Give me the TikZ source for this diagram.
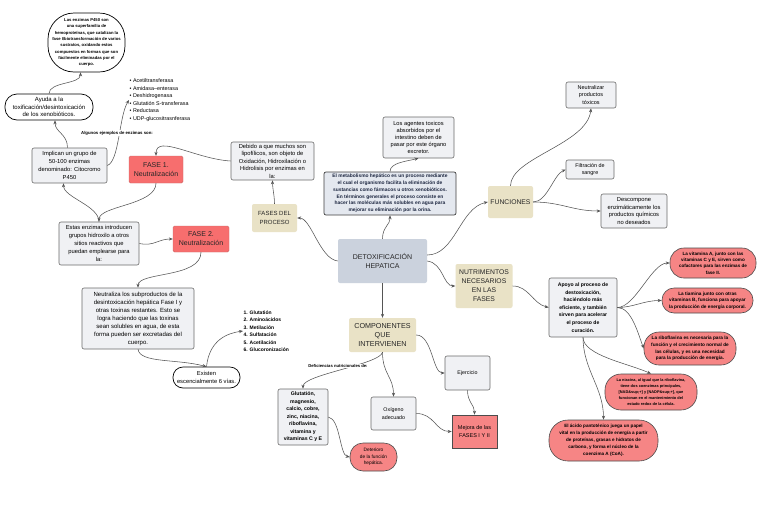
\documentclass[tikz,border=0pt]{standalone}
\usepackage{fontspec}
\setmainfont{Liberation Sans}
\usetikzlibrary{arrows.meta}
\definecolor{linegray}{HTML}{555555}
\definecolor{boxfill}{HTML}{F0F1F4}
\definecolor{boxborder}{HTML}{6A6A6A}
\definecolor{beige}{HTML}{E9E2C6}
\definecolor{redbox}{HTML}{F76E6E}
\definecolor{redpill}{HTML}{F68585}
\definecolor{detoxfill}{HTML}{CBD2DD}
\definecolor{metabfill}{HTML}{E4E8EF}
\definecolor{navytext}{HTML}{1C2640}
\newcommand\myfs[2]{\fontsize{#1}{#2}\selectfont}
\begin{document}
\begin{tikzpicture}[x=1pt,y=-1pt,
  base/.style={align=center, inner sep=1pt, text=black},
  gbox/.style={base, draw=boxborder, fill=boxfill, rounded corners=2pt, line width=0.6pt},
  mbox/.style={base, draw=black!75, fill=metabfill, rounded corners=2pt, line width=0.7pt, text=navytext},
  beigebox/.style={base, fill=beige, rounded corners=2pt, text=black!85},
  redbx/.style={base, fill=redbox, draw=redbox!80!black!90, rounded corners=1.5pt, line width=0.4pt, text=black!85},
  redsq/.style={base, fill=redpill, draw=black!70, line width=0.6pt},
  redpl/.style={base, fill=redpill, draw=black!70, line width=0.6pt},
  whpill/.style={base, fill=white, draw=black, line width=0.7pt},
  plain/.style={base, inner sep=0.5pt},
  conn/.style={draw=linegray, line width=0.55pt, -{Stealth[length=4pt,width=3.2pt]}}
]
\useasboundingbox[fill=white] (0,0) rectangle (768,509);

% ---------- nodes ----------
\node[whpill, rounded corners=26pt, minimum width=77pt, minimum height=59pt, font={\myfs{4.2}{6.3}\bfseries}] (oval) at (86.5,42.5)
  {Las enzimas P450 son\\ una superfamilia de\\ hemoproteínas, que catalizan la\\ fase I/biotransformación de varios\\ sustratos, oxidando estos\\ compuestos en formas que son\\ fácilmente eliminadas por el\\ cuerpo.};
\node[whpill, rounded corners=12pt, minimum width=88pt, minimum height=26pt, font={\myfs{6}{7.5}}] (ayuda) at (49,107)
  {Ayuda a la\\ toxificación/desintoxicación\\ de los xenobióticos.};
\node[plain, anchor=west, align=left, font={\myfs{5.4}{7.5}}] (enz) at (129,100)
  {• Acetiltransferasa\\ • Amidasa–enterasa\\ • Deshidrogenasa\\ • Glutatión S-transferasa\\ • Reductasa\\ • UDP-glucositrasnferasa};
\node[gbox, minimum width=75pt, minimum height=35pt, font={\myfs{5.8}{7.8}}] (impl) at (69.5,165.5)
  {Implican un grupo de\\ 50-100 enzimas\\ denominado: Citocromo\\ P450};
\node[redbx, minimum width=54pt, minimum height=27pt, font={\myfs{7}{9}}] (f1) at (156,169.5)
  {FASE 1.\\ Neutralización};
\node[gbox, minimum width=80pt, minimum height=43pt, font={\myfs{5.8}{8}}] (estas) at (99,243.5)
  {Estas enzimas introducen\\ grupos hidroxilo a otros\\ sitios reactivos que\\ puedan emplearse para\\ la:};
\node[redbx, minimum width=56pt, minimum height=26pt, font={\myfs{7}{9}}] (f2) at (201,239)
  {FASE 2.\\ Neutralización};
\node[gbox, minimum width=112pt, minimum height=61pt, font={\myfs{6}{8}}] (neut) at (138,318.5)
  {Neutraliza los subproductos de la\\ desintoxicación hepática Fase I y\\ otras toxinas restantes. Esto se\\ logra haciendo que las toxinas\\ sean solubles en agua, de esta\\ forma pueden ser excretadas del\\ cuerpo.};
\node[whpill, rounded corners=10pt, minimum width=67pt, minimum height=21pt, font={\myfs{5.8}{7.5}}] (exist) at (206.5,377.5)
  {Existen\\ escencialmente 6 vías.};
\node[plain, anchor=west, align=left, font={\myfs{5}{7.5}\bfseries}] (vias) at (243,331)
  {1. Glutatión\\ 2. Aminoácidos\\ 3. Metilación\\ 4. Sulfatación\\ 5. Acetilación\\ 6. Glucoronización};
\node[gbox, minimum width=83pt, minimum height=38pt, font={\myfs{5.8}{7.5}}] (debido) at (272.5,161)
  {Debido a que muchos son\\ lipofílicos, son objeto de\\ Oxidación, Hidroxilación o\\ Hidrolisis por enzimas en\\ la:};
\node[beigebox, minimum width=45pt, minimum height=28pt, font={\myfs{6}{8.5}}] (fases) at (274.5,218)
  {FASES DEL\\ PROCESO};
\node[mbox, minimum width=132pt, minimum height=43pt, font={\myfs{4.9}{6.8}\bfseries}] (metab) at (390,193.5)
  {El metabolismo hepático es un proceso mediante\\ el cual el organismo facilita la eliminación de\\ sustancias como fármacos u otros xenobióticos.\\ En términos generales el proceso consiste en\\ hacer las moléculas más solubles en agua para\\ mejorar su eliminación por la orina.};
\node[gbox, minimum width=71pt, minimum height=41pt, font={\myfs{5.7}{7.2}}] (agent) at (418.5,137.5)
  {Los agentes toxicos\\ absorbidos por el\\ intestino deben de\\ pasar por este órgano\\ excretor.};
\node[base, fill=detoxfill, rounded corners=2pt, minimum width=89pt, minimum height=44pt, font={\myfs{7}{9.5}}, text=black!85] (detox) at (382.5,261)
  {DETOXIFICACIÓN\\ HEPATICA};
\node[beigebox, minimum width=45pt, minimum height=32pt, font={\myfs{6.8}{8}}] (func) at (510.5,202)
  {FUNCIONES};
\node[gbox, minimum width=50pt, minimum height=26pt, font={\myfs{5.5}{7.5}}] (neutz) at (591,95)
  {Neutralizar\\ productos\\ tóxicos};
\node[gbox, minimum width=48pt, minimum height=19pt, font={\myfs{5.4}{7}}] (filt) at (590,169.5)
  {Filtración de\\ sangre};
\node[gbox, minimum width=66pt, minimum height=34pt, font={\myfs{5.8}{7.5}}] (desc) at (634,211)
  {Descompone\\ enzimáticamente los\\ productos químicos\\ no deseados};
\node[beigebox, minimum width=57pt, minimum height=44pt, font={\myfs{6.8}{9}}] (nutri) at (484,286)
  {NUTRIMENTOS\\ NECESARIOS\\ EN LAS\\ FASES};
\node[gbox, minimum width=68pt, minimum height=59pt, font={\myfs{5.1}{7.6}\bfseries}] (apoyo) at (583,307.5)
  {Apoyo al proceso de\\ destoxicación,\\ haciéndolo más\\ eficiente, y también\\ sirven para acelerar\\ el proceso de\\ curación.};
\node[redpl, rounded corners=14pt, minimum width=86pt, minimum height=30pt, font={\myfs{4.6}{6.3}\bfseries}] (vita) at (713,263)
  {La vitamina A, junto con las\\ vitaminas C y E, sirven como\\ cofactores para las enzimas de\\ fase II.};
\node[redpl, rounded corners=12pt, minimum width=91pt, minimum height=25pt, font={\myfs{4.7}{6.5}\bfseries}] (tiam) at (707.5,300.5)
  {La tiamina junto con otras\\ vitaminas B, funciona para apoyar\\ la producción de energía corporal.};
\node[redpl, rounded corners=15pt, minimum width=92pt, minimum height=33pt, font={\myfs{4.7}{6.6}\bfseries}] (ribo) at (690,348.5)
  {La riboflavina es necesaria para la\\ función y el crecimiento normal de\\ las células, y es una necesidad\\ para la producción de energía.};
\node[redpl, rounded corners=16pt, minimum width=92pt, minimum height=36pt, font={\myfs{3.9}{6.2}\bfseries}] (niac) at (651,392)
  {La niacina, al igual que la riboflavina,\\ tiene dos coenzimas principales,\\ {[}NAD\&sup;+] y [NADP\&sup;+], que\\ funcionan en el mantenimiento del\\ estado redox de la célula.};
\node[redpl, rounded corners=19pt, minimum width=109pt, minimum height=41pt, font={\myfs{4.6}{7}\bfseries}] (pant) at (603.5,440.5)
  {El ácido pantoténico juega un papel\\ vital en la producción de energía a partir\\ de proteínas, grasas e hidratos de\\ carbono, y forma el núcleo de la\\ coenzima A (CoA).};
\node[beigebox, minimum width=67pt, minimum height=34pt, font={\myfs{7.2}{9}}] (comp) at (382.5,335)
  {COMPONENTES\\ QUE\\ INTERVIENEN};
\node[gbox, minimum width=45pt, minimum height=34pt, font={\myfs{5.3}{7}}] (ejer) at (467.5,373)
  {Ejercicio};
\node[gbox, minimum width=45pt, minimum height=33pt, font={\myfs{5.3}{7.5}}] (oxig) at (393.5,413.5)
  {Oxígeno\\ adecuado};
\node[redsq, minimum width=45pt, minimum height=33pt, font={\myfs{5.5}{7.5}}] (mejora) at (474.5,431.5)
  {Mejora de las\\ FASES I Y II};
\node[gbox, minimum width=50pt, minimum height=56pt, font={\myfs{5.2}{7.5}\bfseries}] (gluta) at (303,417)
  {Glutatión,\\ magnesio,\\ calcio, cobre,\\ zinc, niacina,\\ riboflavina,\\ vitamina y\\ vitaminas C y E};
\node[redpl, rounded corners=13pt, minimum width=47pt, minimum height=28pt, font={\myfs{4.8}{6.3}}] (deter) at (373.5,457)
  {Deterioro\\ de la función\\ hepática.};

% ---------- connectors ----------
\draw[conn] (detox.west) .. controls +(-18,-2) and +(14,0) .. (fases.east);
\draw[conn] (fases.north) .. controls +(0,-8) and +(0,8) .. (debido.south);
\draw[conn] (debido.west) .. controls +(-35,-2) and +(0,-22) .. (f1.north);
\draw[conn] (f1.south) .. controls +(0,22) and +(0,-16) .. (estas.north);
\draw[conn] (estas.north) .. controls +(0,-16) and +(0,14) .. ([xshift=-6pt]impl.south);
\draw[conn] ([xshift=-2pt]impl.north) .. controls +(0,-14) and +(0,12) .. ([xshift=6pt]ayuda.south);
\draw[conn] (ayuda.north) .. controls +(0,-12) and +(0,12) .. ([xshift=-6pt]oval.south);
\draw[conn] (impl.east) .. controls +(12,-4) and +(-10,16) .. (enz.west);
\draw[conn] (estas.east) .. controls +(15,3) and +(-15,0) .. (f2.west);
\draw[conn] (f2.south) .. controls +(0,26) and +(0,-16) .. (neut.north);
\draw[conn] (neut.south) .. controls +(2,14) and +(-30,-8) .. (exist.north);
\draw[conn] (exist.north) .. controls +(3,-28) and +(-14,2) .. (vias.west);
\draw[conn] (detox.north) .. controls +(0,-12) and +(0,10) .. (metab.south);
\draw[conn] (metab.north) .. controls +(0,-9) and +(-12,3) .. (agent.south);
\draw[conn] ([yshift=6pt]detox.east) .. controls +(28,0) and +(-28,6) .. (func.west);
\draw[conn] (func.north) .. controls +(0,-28) and +(-4,36) .. (neutz.south);
\draw[conn] (func.east) .. controls +(14,0) and +(-12,5) .. (filt.west);
\draw[conn] (func.east) .. controls +(28,0) and +(-28,0) .. (desc.west);
\draw[conn] (detox.east) .. controls +(16,2) and +(-12,0) .. (nutri.west);
\draw[conn] (nutri.east) .. controls +(16,0) and +(-16,-4) .. (apoyo.west);
\draw[conn] (apoyo.east) .. controls +(18,0) and +(-18,0) .. (vita.west);
\draw[conn] (apoyo.east) .. controls +(16,0) and +(-18,0) .. (tiam.west);
\draw[conn] (apoyo.east) .. controls +(14,0) and +(-6,-16) .. (ribo.west);
\draw[conn] (apoyo.south) .. controls +(0,18) and +(-22,-10) .. (niac.north);
\draw[conn] (apoyo.south) .. controls +(0,32) and +(0,-32) .. (pant.north);
\draw[conn] (detox.south) -- (comp.north);
\draw[conn] (comp.east) .. controls +(16,0) and +(-12,0) .. (ejer.west);
\draw[conn] (comp.south) .. controls +(0,22) and +(0,-20) .. (oxig.north);
\draw[conn] (comp.south) .. controls +(-2,12) and +(0,-14) .. (gluta.north);
\draw[conn] (ejer.south) .. controls +(0,12) and +(0,-10) .. (mejora.north);
\draw[conn] (oxig.east) .. controls +(18,0) and +(-16,0) .. (mejora.west);
\draw[conn] (gluta.east) .. controls +(12,2) and +(-10,-2) .. (deter.west);

% ---------- labels over connectors ----------
\node[plain, fill=white, font={\myfs{4.3}{5}\bfseries}] (alg) at (117,133) {Algunos ejemplos de enzimas son:};
\node[plain, fill=white, font={\myfs{4.2}{5}\bfseries}] (defic) at (338,366) {Deficiencias nutricionales de:};
\end{tikzpicture}
\end{document}
